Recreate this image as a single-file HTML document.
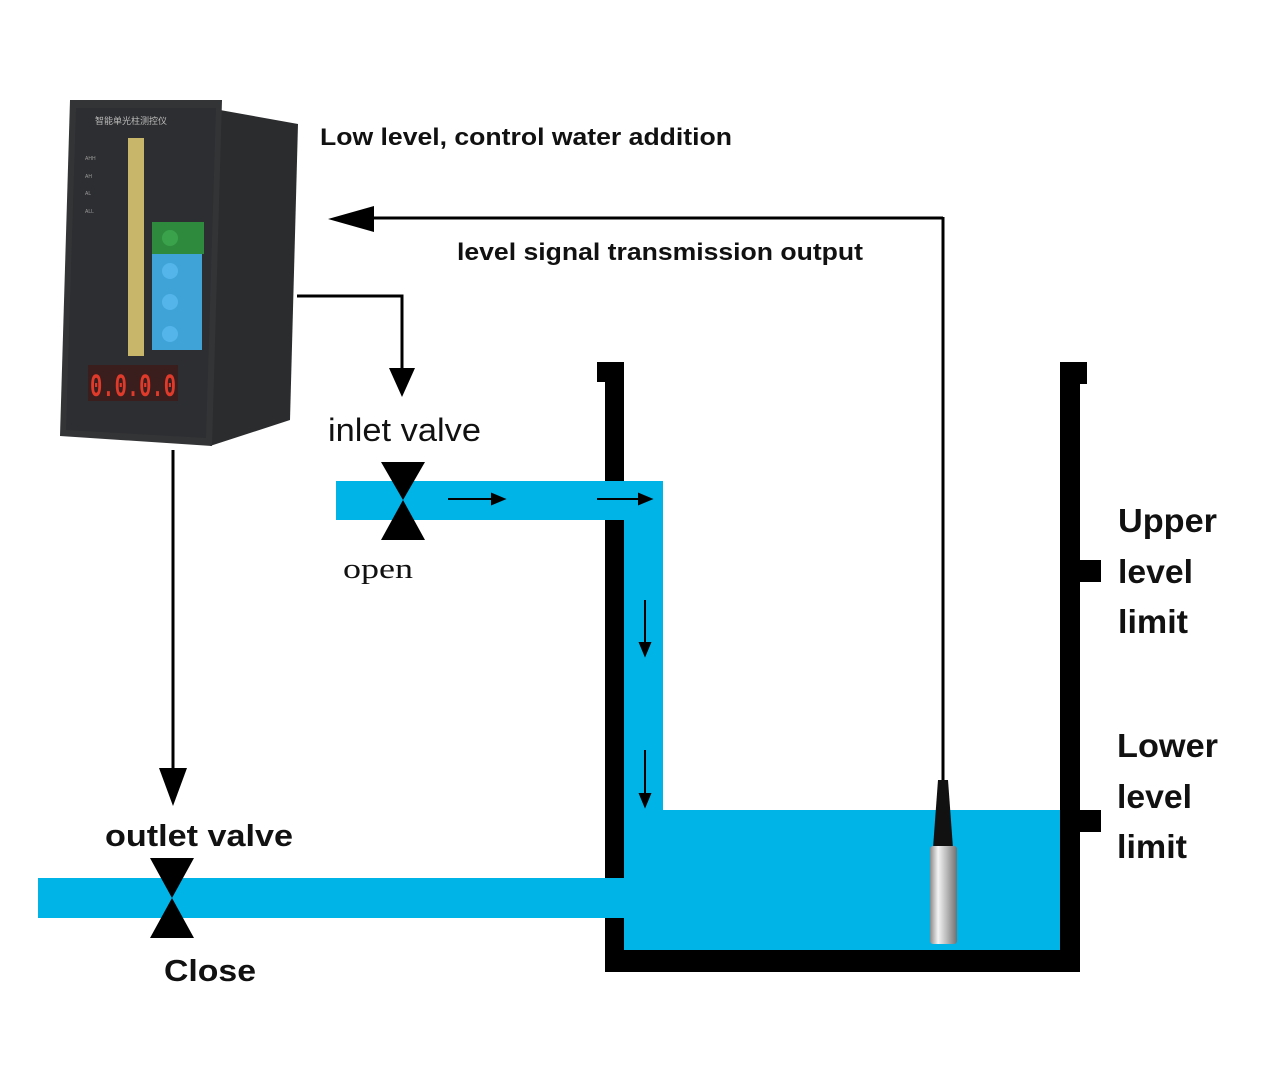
<!DOCTYPE html>
<html><head><meta charset="utf-8"><style>
html,body{margin:0;padding:0;background:#fff;}
svg{display:block}
</style></head><body>
<svg width="1287" height="1076" viewBox="0 0 1287 1076" xmlns="http://www.w3.org/2000/svg" font-family="Liberation Sans, sans-serif">
<defs>
<linearGradient id="steel" x1="0" x2="1"><stop offset="0" stop-color="#8a8a8a"/><stop offset="0.3" stop-color="#f4f4f4"/><stop offset="0.6" stop-color="#bdbdbd"/><stop offset="1" stop-color="#707070"/></linearGradient>
</defs>
<!-- water -->
<rect x="336" y="481" width="327" height="39" fill="#00b4e8"/>
<rect x="624" y="481" width="39" height="340" fill="#00b4e8"/>
<rect x="624" y="810" width="437" height="141" fill="#00b4e8"/>
<rect x="38" y="878" width="590" height="40" fill="#00b4e8"/>
<!-- tank -->
<rect x="597" y="362" width="27" height="20" fill="#000"/>
<rect x="605" y="362" width="19" height="119" fill="#000"/>
<rect x="605" y="520" width="19" height="358" fill="#000"/>
<rect x="605" y="918" width="19" height="54" fill="#000"/>
<rect x="605" y="950" width="475" height="22" fill="#000"/>
<rect x="1060" y="362" width="27" height="22" fill="#000"/>
<rect x="1060" y="362" width="20" height="610" fill="#000"/>
<rect x="1080" y="560" width="21" height="22" fill="#000"/>
<rect x="1080" y="810" width="21" height="22" fill="#000"/>
<!-- sensor -->
<line x1="943" y1="217" x2="943" y2="785" stroke="#000" stroke-width="3"/>
<polygon points="938,780 948,780 953,848 933,848" fill="#111"/>
<rect x="930" y="846" width="27" height="98" rx="3" fill="url(#steel)"/>
<!-- signal line -->
<polyline points="943,218 370,218" fill="none" stroke="#000" stroke-width="3"/>
<polygon points="328,219 374,206 374,232" fill="#000"/>
<!-- controller to inlet -->
<polyline points="297,296 402,296 402,372" fill="none" stroke="#000" stroke-width="3"/>
<polygon points="402,397 389,368 415,368" fill="#000"/>
<!-- controller to outlet -->
<line x1="173" y1="450" x2="173" y2="780" stroke="#000" stroke-width="3"/>
<polygon points="173,806 159,768 187,768" fill="#000"/>
<!-- valves -->
<polygon points="381,462 425,462 403,500 425,540 381,540 403,500" fill="#000"/>
<polygon points="150,858 194,858 172,898 194,938 150,938 172,898" fill="#000"/>
<!-- flow arrows -->
<g stroke="#000" stroke-width="2" fill="#000">
<line x1="448" y1="499" x2="495" y2="499"/><polygon points="504,499 492,494 492,504"/>
<line x1="597" y1="499" x2="642" y2="499"/><polygon points="651,499 639,494 639,504"/>
<line x1="645" y1="600" x2="645" y2="645"/><polygon points="645,655 640,643 650,643"/>
<line x1="645" y1="750" x2="645" y2="796"/><polygon points="645,806 640,794 650,794"/>
</g>
<!-- controller -->
<polygon points="220,110 298,124 290,420 210,446" fill="#2b2c2e"/>
<polygon points="70,100 222,100 212,446 60,436" fill="#333436"/>
<polygon points="76,108 216,108 206,438 66,430" fill="#2d2e31"/>
<rect x="128" y="138" width="16" height="218" fill="#c8b66a"/>
<g fill="#999" font-size="5"><text x="85" y="160">AHH</text><text x="85" y="178">AH</text><text x="85" y="195">AL</text><text x="85" y="213">ALL</text></g>
<text x="95" y="124" font-size="9" fill="#bbb" font-family="Noto Sans CJK SC, sans-serif">智能单光柱测控仪</text>
<rect x="152" y="222" width="52" height="32" fill="#2e8b3e"/>
<circle cx="170" cy="238" r="8" fill="#3aa24a"/>
<rect x="152" y="254" width="50" height="96" fill="#3fa3d8"/>
<circle cx="170" cy="271" r="8" fill="#53b5ea"/><circle cx="170" cy="302" r="8" fill="#53b5ea"/><circle cx="170" cy="334" r="8" fill="#53b5ea"/>
<rect x="88" y="365" width="90" height="36" fill="#3a1e1e"/>
<text x="90" y="396" font-size="32" fill="#e03a2a" font-weight="bold" font-family="Liberation Mono, monospace" textLength="86" lengthAdjust="spacingAndGlyphs">0.0.0.0</text>
<!-- labels -->
<g font-weight="bold" fill="#111">
<text x="320" y="145" font-size="24" textLength="412" lengthAdjust="spacingAndGlyphs">Low level, control water addition</text>
<text x="457" y="260" font-size="24" textLength="406" lengthAdjust="spacingAndGlyphs">level signal transmission output</text>
<text x="105" y="846" font-size="31" textLength="188" lengthAdjust="spacingAndGlyphs">outlet valve</text>
<text x="164" y="981" font-size="31" textLength="92" lengthAdjust="spacingAndGlyphs">Close</text>
<text x="1118" y="532" font-size="33" textLength="99" lengthAdjust="spacingAndGlyphs">Upper</text>
<text x="1118" y="583" font-size="33" textLength="75" lengthAdjust="spacingAndGlyphs">level</text>
<text x="1118" y="633" font-size="33" textLength="70" lengthAdjust="spacingAndGlyphs">limit</text>
<text x="1117" y="757" font-size="33" textLength="101" lengthAdjust="spacingAndGlyphs">Lower</text>
<text x="1117" y="808" font-size="33" textLength="75" lengthAdjust="spacingAndGlyphs">level</text>
<text x="1117" y="858" font-size="33" textLength="70" lengthAdjust="spacingAndGlyphs">limit</text>
</g>
<text x="328" y="441" font-size="32" fill="#111" textLength="153" lengthAdjust="spacingAndGlyphs">inlet valve</text>
<text x="343" y="578" font-size="28" fill="#111" font-family="Liberation Serif, serif" textLength="70" lengthAdjust="spacingAndGlyphs">open</text>
</svg>
</body></html>
